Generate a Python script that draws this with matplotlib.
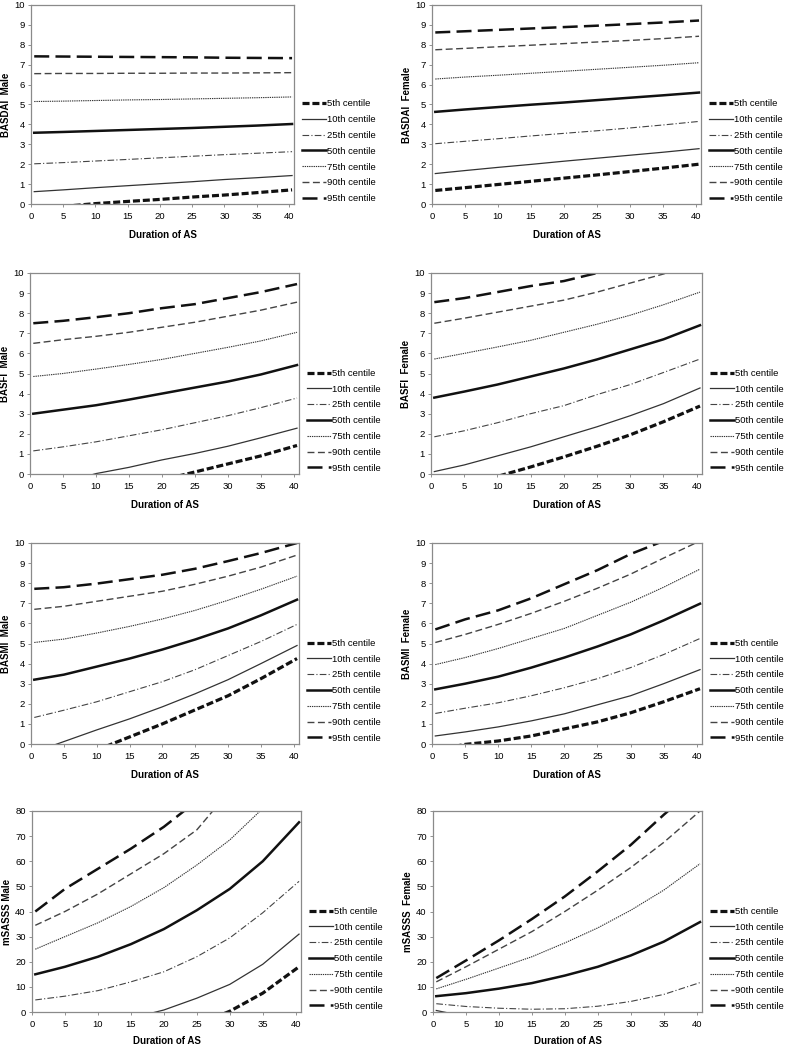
import matplotlib
matplotlib.use("Agg")
import matplotlib.pyplot as plt

plt.rcParams["font.family"] = ["Liberation Sans", "DejaVu Sans"]

# x positions (years of disease duration) where the centile curves were read
duration = [0.5, 5, 10, 15, 20, 25, 30, 35, 40.5]
centiles = ["5th centile", "10th centile", "25th centile", "50th centile",
            "75th centile", "90th centile", "95th centile"]

# centile curves, one list per centile (5, 10, 25, 50, 75, 90, 95)
basdai_male = [
    [-0.25, -0.12, 0.02, 0.13, 0.23, 0.35, 0.45, 0.57, 0.71],
    [0.62, 0.71, 0.82, 0.92, 1.02, 1.12, 1.23, 1.32, 1.43],
    [2.02, 2.08, 2.16, 2.24, 2.32, 2.40, 2.48, 2.55, 2.63],
    [3.58, 3.62, 3.67, 3.72, 3.77, 3.82, 3.88, 3.94, 4.02],
    [5.15, 5.17, 5.20, 5.23, 5.25, 5.28, 5.31, 5.34, 5.38],
    [6.55, 6.56, 6.56, 6.57, 6.57, 6.58, 6.58, 6.59, 6.60],
    [7.42, 7.41, 7.40, 7.39, 7.38, 7.37, 7.35, 7.34, 7.33],
]
basdai_female = [
    [0.68, 0.82, 0.98, 1.14, 1.30, 1.46, 1.63, 1.80, 2.00],
    [1.53, 1.68, 1.84, 1.99, 2.15, 2.30, 2.45, 2.60, 2.78],
    [3.03, 3.15, 3.28, 3.42, 3.55, 3.68, 3.82, 3.97, 4.15],
    [4.63, 4.75, 4.87, 4.99, 5.10, 5.22, 5.34, 5.46, 5.60],
    [6.28, 6.38, 6.47, 6.57, 6.67, 6.77, 6.87, 6.97, 7.10],
    [7.75, 7.82, 7.90, 7.98, 8.06, 8.14, 8.22, 8.31, 8.43],
    [8.62, 8.68, 8.75, 8.82, 8.89, 8.96, 9.04, 9.12, 9.22],
]
basfi_male = [
    [-1.8, -1.5, -1.1, -0.7, -0.3, 0.1, 0.5, 0.9, 1.42],
    [-0.8, -0.45, 0.02, 0.33, 0.7, 1.02, 1.38, 1.8, 2.28],
    [1.15, 1.35, 1.6, 1.9, 2.2, 2.55, 2.9, 3.3, 3.78],
    [3.0, 3.2, 3.42, 3.7, 4.0, 4.3, 4.6, 4.95, 5.42],
    [4.85, 5.0, 5.22, 5.45, 5.7, 6.0, 6.3, 6.62, 7.05],
    [6.5, 6.68, 6.85, 7.05, 7.3, 7.55, 7.85, 8.15, 8.55],
    [7.5, 7.62, 7.8, 8.0, 8.25, 8.45, 8.75, 9.05, 9.45],
]
basfi_female = [
    [-1.3, -0.85, -0.12, 0.35, 0.85, 1.38, 1.95, 2.6, 3.38],
    [0.12, 0.45, 0.9, 1.35, 1.85, 2.35, 2.9, 3.5, 4.28],
    [1.85, 2.15, 2.55, 3.0, 3.4, 3.95, 4.45, 5.05, 5.72],
    [3.8, 4.1, 4.45, 4.85, 5.25, 5.7, 6.2, 6.7, 7.4],
    [5.72, 6.0, 6.32, 6.65, 7.05, 7.45, 7.9, 8.42, 9.05],
    [7.5, 7.75, 8.05, 8.35, 8.65, 9.05, 9.5, 9.95, 10.6],
    [8.55, 8.75, 9.05, 9.35, 9.6, 10.0, 10.5, 11.0, 11.6],
]
basmi_male = [
    [-1.8, -1.1, -0.3, 0.35, 1.0, 1.7, 2.4, 3.25, 4.25],
    [-0.4, 0.12, 0.7, 1.25, 1.85, 2.5, 3.2, 4.0, 4.9],
    [1.32, 1.68, 2.1, 2.6, 3.1, 3.7, 4.4, 5.1, 5.95],
    [3.2, 3.45, 3.85, 4.25, 4.7, 5.2, 5.75, 6.4, 7.18],
    [5.05, 5.22, 5.52, 5.85, 6.22, 6.65, 7.15, 7.7, 8.35],
    [6.7, 6.85, 7.1, 7.35, 7.6, 7.95, 8.35, 8.8, 9.4],
    [7.72, 7.8, 7.98, 8.2, 8.42, 8.72, 9.1, 9.5, 10.0],
]
basmi_female = [
    [-0.3, -0.02, 0.15, 0.4, 0.75, 1.1, 1.55, 2.1, 2.75],
    [0.4, 0.6, 0.85, 1.15, 1.5, 1.95, 2.4, 3.0, 3.7],
    [1.52, 1.78, 2.05, 2.4, 2.8, 3.25, 3.8, 4.45, 5.25],
    [2.72, 3.0, 3.35, 3.8, 4.3, 4.85, 5.45, 6.15, 6.98],
    [3.95, 4.3, 4.75, 5.25, 5.75, 6.4, 7.05, 7.8, 8.7],
    [5.05, 5.45, 5.95, 6.5, 7.1, 7.75, 8.45, 9.25, 10.1],
    [5.7, 6.2, 6.65, 7.25, 7.95, 8.65, 9.45, 10.1, 11.2],
]
msasss_male = [
    [-25, -22, -18, -14, -10, -5, 0.3, 7.5, 18],
    [-12, -9.5, -7, -2.5, 0.8, 5.5, 11, 19, 31],
    [4.8, 6.3, 8.5, 12, 16, 22, 29.5, 39.5, 52],
    [15, 18, 22, 27, 33, 40.5, 49, 60, 75.5],
    [25, 30, 35.5, 42, 49.5, 58.5, 68.5, 81, 95],
    [34.5, 40, 47, 55, 63, 72.5, 88, 97, 108],
    [40, 49, 57, 65, 73.7, 84, 92, 100, 110],
]
msasss_female = [
    [-3, -6, -9, -11, -12, -12, -11, -9, -6],
    [0.6, -1.8, -4, -6, -7, -7, -6, -4.5, -2],
    [3.3, 2.2, 1.5, 1.1, 1.3, 2.3, 4.2, 7.0, 11.7],
    [6.3, 7.5, 9.3, 11.5, 14.5, 18, 22.5, 28, 35.8],
    [9.2, 13, 17.5, 22, 27.5, 33.5, 40.5, 48.5, 59],
    [12, 18, 25, 32, 40, 48.5, 57.5, 67.5, 80],
    [13.5, 20.5, 28.5, 37, 46, 56, 66.5, 78.5, 91],
]

panels = [
    ("BASDAI  Male", basdai_male, 10),
    ("BASDAI  Female", basdai_female, 10),
    ("BASFI  Male", basfi_male, 10),
    ("BASFI  Female", basfi_female, 10),
    ("BASMI  Male", basmi_male, 10),
    ("BASMI  Female", basmi_female, 10),
    ("mSASSS Male", msasss_male, 80),
    ("mSASSS  Female", msasss_female, 80),
]

# line look per centile: (colour, width, dash pattern)
STYLES = [
    ("#111111", 2.3, (0, (2.2, 0.9))),
    ("#333333", 0.9, "-"),
    ("#444444", 0.8, (0, (6, 2, 1, 2))),
    ("#111111", 1.8, "-"),
    ("#333333", 0.8, (0, (1.2, 0.8))),
    ("#444444", 1.0, (0, (5, 2.5))),
    ("#111111", 1.8, (0, (6, 2.5))),
]

W, H = 785, 1046
# axes boxes in pixels: (left, top, right, bottom)
boxes = [
    (31, 5, 294, 204), (432, 5, 701, 204),
    (30, 273, 299, 474), (431, 273, 702, 474),
    (31, 543, 299, 744), (432, 543, 702, 744),
    (32, 811, 301, 1012), (433, 811, 702, 1012),
]

fig = plt.figure(figsize=(W / 100, H / 100), dpi=100)

for (ylabel, curves, ymax), (l, t, r, b) in zip(panels, boxes):
    ax = fig.add_axes([l / W, 1 - b / H, (r - l) / W, (b - t) / H])
    for vals, lbl, (col, lw, ls) in zip(curves, centiles, STYLES):
        ax.plot(duration, vals, color=col, lw=lw, linestyle=ls, label=lbl)

    ax.set_xlim(0, 40.8)
    ax.set_ylim(0, ymax)
    ax.set_xticks(range(0, 41, 5))
    ax.set_yticks(range(0, ymax + 1, 1 if ymax == 10 else 10))
    ax.tick_params(labelsize=6.8, length=2, width=0.6, color="#808080")
    ax.tick_params(axis="x", pad=3.5)
    ax.tick_params(axis="y", pad=2.5)
    for sp in ax.spines.values():
        sp.set_color("#8a8a8a")
        sp.set_linewidth(0.9)

    # bottom row labels sit right at the page edge, nudge them up a little
    ax.set_xlabel("Duration of AS", fontsize=7, fontweight="bold",
                  labelpad=5 if b > 1000 else 7)
    ax.set_ylabel(ylabel, fontsize=7, fontweight="bold", labelpad=2)

    ax.legend(loc="center left", bbox_to_anchor=(1.03, 0.265), frameon=False,
              fontsize=6.8, handlelength=2.5, handletextpad=0.15,
              labelspacing=0.72, borderpad=0, borderaxespad=0)

fig.savefig("out.png", dpi=100)
